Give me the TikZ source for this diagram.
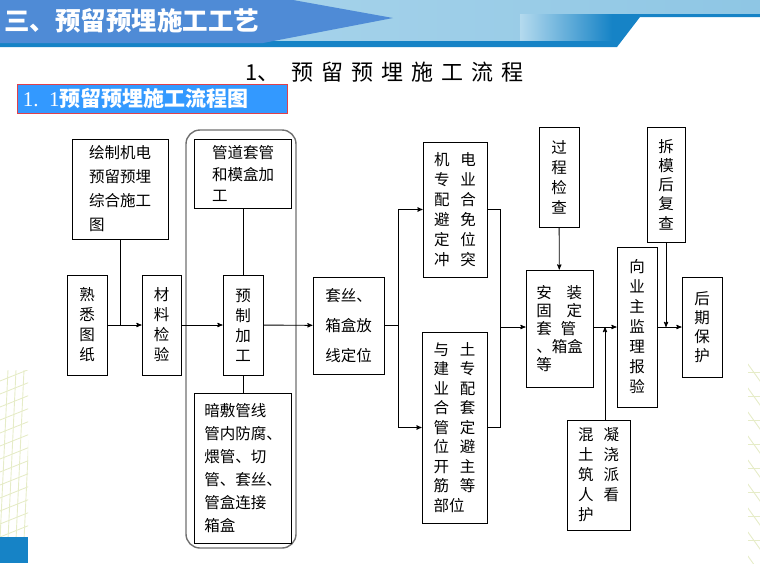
\documentclass[tikz,border=0pt]{standalone}
\usepackage{fontspec}
\setmainfont{Noto Sans CJK SC}
\newfontfamily\latinfont{Liberation Serif}
\usetikzlibrary{arrows}

\definecolor{bandblue}{HTML}{4F8BD6}
\definecolor{bandlight}{HTML}{B4DAEE}
\definecolor{toplight}{HTML}{8EC6E4}
\definecolor{banddark}{HTML}{1683C6}
\definecolor{subblue}{HTML}{3399FF}
\definecolor{subred}{HTML}{E0404A}
\definecolor{gridpale}{HTML}{E6ECC8}
\definecolor{framegray}{HTML}{707070}

\newcommand{\twin}[3][11pt]{#2\hspace{#1}#3}

\begin{document}
\begin{tikzpicture}[x=1pt,y=-1pt,>=stealth',line width=0.9pt,
    box/.style={draw,inner sep=0pt,align=center,font=\fontsize{15.5}{20}\selectfont},
    group/.style={draw=framegray,line width=1.4pt,rounded corners=14pt},
    sub/.style={fill=subblue,draw=subred,line width=1pt,minimum height=29pt,
      text width=258pt,inner xsep=6pt,align=left,text=white,font=\fontsize{21}{21}\selectfont}]
  \useasboundingbox (0,0) rectangle (760,563);

  % header band
  \shade[left color=bandlight,right color=toplight] (0,0) -- (760,0) -- (760,14) -- (640,14) -- (618,44) -- (0,44) -- cycle;
  \shade[left color=bandlight,right color=banddark] (520,14) rectangle (612,41);
  \fill[banddark] (0,41) -- (612,41) -- (612,14) -- (760,14) -- (760,17) -- (640,17) -- (617,47) -- (0,47) -- cycle;
  \fill[bandblue] (0,0) -- (293,0) -- (393,18) -- (263,43) -- (0,43) -- cycle;
  \node (sectitle) [anchor=west,inner sep=0pt,text=white,font=\fontsize{25.5}{25.5}\selectfont\bfseries] at (4,21) {三、预留预埋施工工艺};

  % background grid
  \begin{scope}
    \clip (0,370) rectangle (28,537);
    \foreach \k in {0,...,13} \draw[gridpale] (-10,385+\k*13) -- (40,365+\k*13);
    \foreach \k in {0,...,4} \draw[gridpale] (\k*8,540) -- (\k*8+8,370);
  \end{scope}
  \begin{scope}
    \clip (748,360) rectangle (760,563);
    \foreach \k in {0,...,9} \draw[gridpale] (745,360+\k*24) -- (770,395+\k*24);
    \foreach \k in {0,...,9} \draw[gridpale] (748,372+\k*24) -- (760,372+\k*24);
  \end{scope}
  \fill[banddark] (0,537) rectangle (28,563);

  \node (flowtitle) [anchor=west,inner sep=0pt,font=\fontsize{22}{22}\selectfont] at (245,72)
    {1、\hspace{12pt}{\addfontfeature{LetterSpace=36}预留预埋施工流程}};
  \node (subtitle) [sub] at (152,98.5) {{\latinfont 1. 1}{\bfseries 预留预埋施工流程图}};

  % flow chart
  \node (prep) [group,minimum width=110pt,minimum height=418pt] at (241,339) {};
  \node (huizhi) [box,align=left,minimum width=96pt,minimum height=100pt,font=\fontsize{15.5}{24}\selectfont] at (120,189) {绘制机电\\预留预埋\\综合施工\\图};
  \node (shuxi) [box,minimum width=40pt,minimum height=100pt] at (87,325) {熟\\悉\\图\\纸};
  \node (cailiao) [box,minimum width=39pt,minimum height=100pt] at (161.5,325) {材\\料\\检\\验};
  \node (yuzhi) [box,minimum width=40pt,minimum height=100pt] at (243,325) {预\\制\\加\\工};
  \node (guandao) [box,align=left,minimum width=97pt,minimum height=69pt,font=\fontsize{15.5}{21.5}\selectfont] at (243,173.5) {管道套管\\和模盒加\\工};
  \node (anfu) [box,align=left,minimum width=97pt,minimum height=150pt,font=\fontsize{15.5}{23}\selectfont] at (243,468) {暗敷管线\\管内防腐、\\煨管、切\\管、套丝、\\管盒连接\\箱盒};
  \node (taosi) [box,align=left,minimum width=71pt,minimum height=97pt,font=\fontsize{15.5}{30}\selectfont] at (348.5,325.5) {套丝、\\箱盒放\\线定位};
  \node (jidian) [box,align=left,minimum width=64pt,minimum height=135pt] at (455,209.5)
    {\twin{机}{电}\\\twin{专}{业}\\\twin{配}{合}\\\twin{避}{免}\\\twin{定}{位}\\\twin{冲}{突}};
  \node (tujian) [box,align=left,minimum width=65pt,minimum height=191pt,font=\fontsize{15.5}{19.5}\selectfont] at (454.5,427.5)
    {\twin{与}{土}\\\twin{建}{专}\\\twin{业}{配}\\\twin{合}{套}\\\twin{管}{定}\\\twin{位}{避}\\\twin{开}{主}\\\twin{筋}{等}\\部位};
  \node (guocheng) [box,minimum width=40pt,minimum height=100pt] at (559,177) {过\\程\\检\\查};
  \node (anzhuang) [box,align=left,minimum width=67pt,minimum height=117pt,font=\fontsize{15.5}{18}\selectfont] at (559.5,328.5)
    {\twin[15pt]{安}{装}\\\twin[15pt]{固}{定}\\\twin[9pt]{套}{管}\\、箱盒\\等};
  \node (xiang) [box,minimum width=40pt,minimum height=160pt] at (637,327) {向\\业\\主\\监\\理\\报\\验};
  \node (chaimo) [box,minimum width=38pt,minimum height=115pt,font=\fontsize{15.5}{19.3}\selectfont] at (666,184.5) {拆\\模\\后\\复\\查};
  \node (houqi) [box,minimum width=40pt,minimum height=100pt,font=\fontsize{15.5}{19}\selectfont] at (702,327) {后\\期\\保\\护};
  \node (hunning) [box,align=left,minimum width=63pt,minimum height=110pt] at (598.5,475)
    {\twin[10pt]{混}{凝}\\\twin[10pt]{土}{浇}\\\twin[10pt]{筑}{派}\\\twin[10pt]{人}{看}\\护};

  \coordinate (fork) at (398,325.5);
  \coordinate (join) at (500,327);
  \coordinate (mix) at (605,327);

  \draw (huizhi) -- (huizhi |- shuxi);
  \path[->] (shuxi) edge (cailiao)
            (cailiao) edge (yuzhi)
            (yuzhi) edge (taosi);
  \draw (guandao) -- (yuzhi);
  \draw (yuzhi) -- (anfu);
  \draw (taosi) -- (fork);
  \draw[->] (fork) |- (jidian);
  \draw[->] (fork) |- (tujian);
  \draw (jidian) -| (join);
  \draw (tujian) -| (join);
  \draw[->] (join) -- (anzhuang.west |- join);
  \draw[->] (guocheng) -- (anzhuang);
  \draw[->] (anzhuang.east |- xiang) -- (xiang);
  \draw[->] (mix |- hunning.north) -- (mix);
  \draw[->] (chaimo) -- (chaimo |- houqi);
  \draw[->] (xiang) -- (houqi);
\end{tikzpicture}
\end{document}
